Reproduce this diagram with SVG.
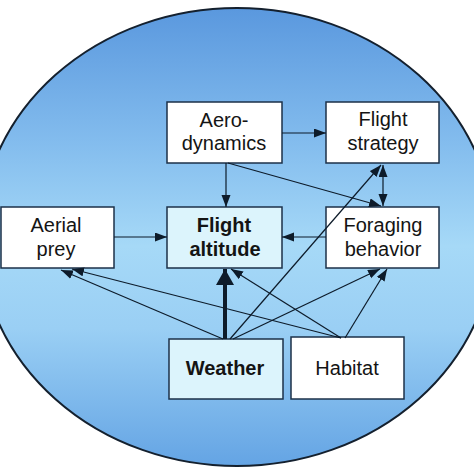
<svg xmlns="http://www.w3.org/2000/svg" width="474" height="474" viewBox="0 0 474 474">
<defs>
<linearGradient id="bg" x1="0" y1="0" x2="0" y2="1">
<stop offset="0" stop-color="#5a98de"/>
<stop offset="0.3" stop-color="#84bdee"/>
<stop offset="0.52" stop-color="#a6d9f7"/>
<stop offset="0.7" stop-color="#9acff4"/>
<stop offset="1" stop-color="#64a4e4"/>
</linearGradient>
<marker id="ah" markerUnits="userSpaceOnUse" markerWidth="13" markerHeight="10" refX="12" refY="4.5" orient="auto-start-reverse">
<path d="M0,0 L12,4.5 L0,9 z" fill="#0d1b2a"/>
</marker>
<marker id="ahb" markerUnits="userSpaceOnUse" markerWidth="17" markerHeight="19" refX="16" refY="9" orient="auto">
<path d="M0,0 L16,9 L0,18 z" fill="#0d1b2a"/>
</marker>
</defs>
<style>
.box{stroke:#1c3048;stroke-width:1.5;fill:#ffffff}
.hi{fill:#dcf4fc}
.t{font-family:"Liberation Sans",Arial,sans-serif;font-size:20px;fill:#141414;text-anchor:middle}
.b{font-weight:bold}
.c line{stroke:#0d1b2a;stroke-width:1.2;marker-end:url(#ah)}
</style>
<ellipse cx="237" cy="237" rx="257" ry="229" fill="url(#bg)" stroke="#14202e" stroke-width="2"/>
<g id="aerodynamics"><rect class="box" x="167" y="102" width="115" height="61"/><text class="t" x="224" y="127">Aero-</text><text class="t" x="224" y="150">dynamics</text></g>
<g id="flight-strategy"><rect class="box" x="326" y="102" width="113" height="61"/><text class="t" x="383" y="126">Flight</text><text class="t" x="383" y="150">strategy</text></g>
<g id="aerial-prey"><rect class="box" x="1" y="207" width="113" height="61"/><text class="t" x="56" y="232">Aerial</text><text class="t" x="56" y="256">prey</text></g>
<g id="flight-altitude"><rect class="box hi" x="167" y="207" width="115" height="61"/><text class="t b" x="224" y="232">Flight</text><text class="t b" x="225" y="256">altitude</text></g>
<g id="foraging-behavior"><rect class="box" x="326" y="207" width="113" height="61"/><text class="t" x="383" y="232">Foraging</text><text class="t" x="383" y="256">behavior</text></g>
<g id="weather"><rect class="box hi" x="169" y="339" width="114" height="60"/><text class="t b" x="225" y="375">Weather</text></g>
<g id="habitat"><rect class="box" x="291" y="337" width="113" height="62"/><text class="t" x="347" y="375">Habitat</text></g>
<g id="connectors" class="c">
<line x1="282" y1="133" x2="326" y2="133"/>
<line x1="226" y1="163" x2="226" y2="207"/>
<line x1="228" y1="163" x2="381" y2="206"/>
<line x1="383" y1="165" x2="383" y2="206" marker-start="url(#ah)"/>
<line x1="326" y1="237" x2="282" y2="237"/>
<line x1="114" y1="237" x2="167" y2="237"/>
<line x1="225" y1="339" x2="225" y2="269" style="stroke-width:4;marker-end:url(#ahb)"/>
<line x1="223" y1="339" x2="61" y2="270"/>
<line x1="230" y1="339" x2="381" y2="165"/>
<line x1="233" y1="339" x2="380" y2="269"/>
<line x1="341" y1="338" x2="72" y2="269"/>
<line x1="341" y1="338" x2="231" y2="269"/>
<line x1="345" y1="338" x2="387" y2="269"/>
</g>
</svg>
